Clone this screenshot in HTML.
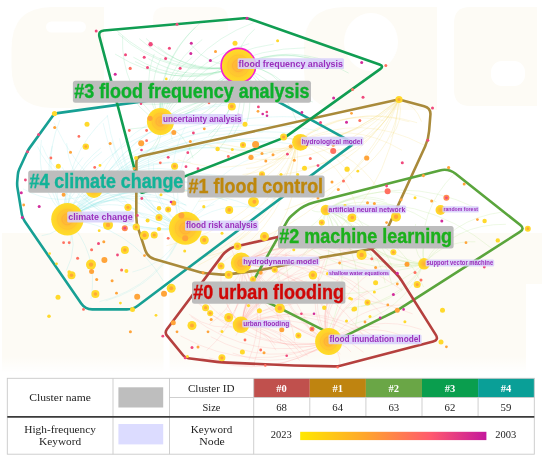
<!DOCTYPE html>
<html><head><meta charset="utf-8"><title>Cluster map</title>
<style>
html,body{margin:0;padding:0;background:#fff;}
body{width:550px;height:463px;overflow:hidden;position:relative;font-family:"Liberation Sans",sans-serif;}
svg{position:absolute;left:0;top:0;}
.cl{font-family:"Liberation Sans",sans-serif;font-weight:bold;font-size:19.4px;}
.kw{font-family:"Liberation Sans",sans-serif;font-weight:bold;fill:#9a2ebc;}
.tb{font-family:"Liberation Serif",serif;fill:#222;}
.tw{font-family:"Liberation Serif",serif;fill:#fff;font-weight:bold;}
</style></head><body>
<svg width="550" height="463" viewBox="0 0 550 463">
<defs>
<radialGradient id="ng"><stop offset="0" stop-color="#ffae3a"/><stop offset="0.45" stop-color="#ffc431"/><stop offset="0.75" stop-color="#ffd42a"/><stop offset="1" stop-color="#ffdc28"/></radialGradient>
<linearGradient id="yr" x1="0" x2="1" y1="0" y2="0"><stop offset="0" stop-color="#ffe800"/><stop offset="0.35" stop-color="#ffa52c"/><stop offset="0.7" stop-color="#ff5a6e"/><stop offset="1" stop-color="#c4189c"/></linearGradient>
</defs>

<g fill="#fdfbf5">
<rect x="2" y="233" width="540" height="139"/>
<path d="M52 7 H104 V108 H52 Q11.5 108 11.5 66 V49 Q11.5 7 52 7Z"/>
<path d="M165 7 H216 Q228 7 228 19 V30 H153 V19 Q153 7 165 7Z" fill-opacity="0.7"/>
<path d="M345 7 H437 V110 H345 Q304 110 304 70 V47 Q304 7 345 7Z"/>
<path d="M470 7 H537 V106 H470 Q454 106 454 90 V23 Q454 7 470 7Z"/>
</g>
<g fill="#fff"><ellipse cx="371" cy="42" rx="27" ry="29"/><rect x="46" y="21.5" width="40" height="11" rx="5.5"/><rect x="491" y="61" width="34" height="25" rx="11"/><rect x="163.5" y="233" width="6" height="139"/><rect x="526" y="284" width="16" height="88"/></g>
<defs><linearGradient id="fd" x1="0" x2="0" y1="0" y2="1"><stop offset="0" stop-color="#fff" stop-opacity="0"/><stop offset="1" stop-color="#fff"/></linearGradient></defs><rect x="0" y="356" width="550" height="17" fill="url(#fd)"/>
<path d="M238.0 66.0Q209.0 67.1 190.7 44.5M238.0 66.0Q248.7 70.7 251.4 82.2M238.0 66.0Q170.0 80.0 118.0 33.9M238.0 66.0Q183.5 87.7 133.4 57.2M238.0 66.0Q256.0 70.5 263.2 87.6M238.0 66.0Q291.6 41.0 343.7 68.8M238.0 66.0Q181.8 77.0 139.3 38.7M238.0 66.0Q236.0 126.5 186.3 161.2M238.0 66.0Q207.4 115.1 149.7 120.1M238.0 66.0Q263.8 64.0 280.9 83.4M238.0 66.0Q237.1 43.3 254.8 29.0M238.0 66.0Q173.6 90.8 115.1 54.1M238.0 66.0Q272.1 65.8 292.7 93.0M238.0 66.0Q226.6 105.9 187.9 120.8M238.0 66.0Q234.0 70.9 227.7 70.6M238.0 66.0Q216.1 109.9 167.9 118.8M238.0 66.0Q273.0 50.1 306.8 68.5M238.0 66.0Q249.1 113.5 217.7 150.9M238.0 66.0Q199.2 109.0 141.5 103.8M238.0 66.0Q295.0 41.9 348.6 73.1M238.0 66.0Q281.6 79.4 297.0 122.3M238.0 66.0Q259.0 75.5 264.0 98.1M238.0 66.0Q253.0 101.4 233.7 134.6M238.0 66.0Q286.1 43.2 333.2 67.9M238.0 66.0Q240.5 108.1 208.4 135.3M238.0 66.0Q185.2 75.3 146.1 38.6M238.0 66.0Q185.4 89.5 135.0 61.5M238.0 66.0Q187.2 110.7 121.1 96.8M238.0 66.0Q214.1 93.5 177.7 90.9M238.0 66.0Q191.4 84.7 148.4 58.7M238.0 66.0Q210.7 102.9 164.8 103.1M238.0 66.0Q251.8 57.9 266.6 64.1M238.0 66.0Q233.7 100.3 203.7 117.4M238.0 66.0Q256.9 94.3 245.5 126.4M238.0 66.0Q229.7 83.9 210.3 88.0M238.0 66.0Q198.6 125.3 127.6 129.3M238.0 66.0Q167.9 78.5 115.8 29.8M238.0 66.0Q193.0 76.3 157.7 46.5" fill="none" stroke="#6fdc9a" stroke-opacity="0.45" stroke-width="0.5"/>
<path d="M161.0 122.0Q154.5 66.0 195.3 27.2M161.0 122.0Q134.0 110.4 127.0 81.8M161.0 122.0Q197.9 54.8 273.7 44.1M161.0 122.0Q154.8 98.2 170.2 79.0M161.0 122.0Q161.0 70.5 202.2 39.6M161.0 122.0Q191.4 94.9 231.4 102.9M161.0 122.0Q120.3 88.6 122.6 35.9M161.0 122.0Q164.1 84.5 196.1 64.5M161.0 122.0Q185.5 60.8 249.2 43.7M161.0 122.0Q182.4 49.3 253.5 22.7M161.0 122.0Q157.0 99.2 172.7 82.4M161.0 122.0Q161.3 141.5 145.8 153.5M161.0 122.0Q160.5 81.7 192.4 57.1M161.0 122.0Q158.7 114.9 162.9 108.8M161.0 122.0Q155.7 62.9 199.8 23.1M161.0 122.0Q171.0 128.0 172.2 139.5M161.0 122.0Q145.0 89.9 161.1 57.8M161.0 122.0Q140.6 89.6 154.3 53.9M161.0 122.0Q231.8 74.0 312.7 101.9M161.0 122.0Q163.7 142.2 149.1 156.5M161.0 122.0Q186.2 132.2 193.2 158.5M161.0 122.0Q214.7 48.8 305.4 47.8" fill="none" stroke="#6fdc9a" stroke-opacity="0.4" stroke-width="0.5"/>
<path d="M67.0 219.0Q38.7 171.4 59.8 120.2M67.0 219.0Q79.6 245.0 66.3 270.7M67.0 219.0Q98.5 196.9 135.1 208.8M67.0 219.0Q130.5 225.9 163.2 280.8M67.0 219.0Q159.8 119.2 295.4 133.5M67.0 219.0Q67.6 176.7 101.9 151.8M67.0 219.0Q82.1 210.3 98.1 217.2M67.0 219.0Q75.9 190.1 104.4 179.9M67.0 219.0Q94.0 186.5 136.2 188.6M67.0 219.0Q123.0 182.3 186.1 205.0M67.0 219.0Q93.2 148.6 165.3 127.3M67.0 219.0Q64.3 203.5 75.1 192.0M67.0 219.0Q162.1 166.2 261.4 210.5M67.0 219.0Q92.7 195.6 126.9 202.0M67.0 219.0Q58.0 218.8 52.8 211.4M67.0 219.0Q66.2 175.2 100.7 148.2M67.0 219.0Q167.3 156.8 277.3 199.7M67.0 219.0Q140.3 170.0 223.4 199.2M67.0 219.0Q133.8 199.3 189.6 240.9M67.0 219.0Q114.8 186.6 169.4 205.4M67.0 219.0Q182.1 114.8 334.5 144.4M67.0 219.0Q158.1 109.8 300.1 117.1M67.0 219.0Q54.0 204.3 58.0 185.0M67.0 219.0Q34.5 186.0 41.4 140.1M67.0 219.0Q58.5 233.7 41.6 235.7M67.0 219.0Q74.8 232.0 69.0 246.1M67.0 219.0Q128.1 125.6 239.5 118.4M67.0 219.0Q99.0 252.9 91.0 298.8M67.0 219.0Q103.1 186.0 151.2 195.1M67.0 219.0Q60.1 199.7 71.4 182.7M67.0 219.0Q114.7 159.6 190.8 162.1M67.0 219.0Q59.6 184.3 83.0 157.5M67.0 219.0Q126.8 167.7 203.7 184.7M67.0 219.0Q142.6 169.8 227.3 200.7M67.0 219.0Q41.3 186.0 52.3 145.7M67.0 219.0Q61.7 156.9 108.1 115.4M67.0 219.0Q161.3 125.1 293.0 144.1M67.0 219.0Q144.1 195.2 209.3 242.6M67.0 219.0Q148.5 154.7 248.9 181.3M67.0 219.0Q104.2 164.8 169.9 162.1" fill="none" stroke="#7fe3e3" stroke-opacity="0.4" stroke-width="0.5"/>
<path d="M184.0 228.0Q117.5 190.8 107.3 115.3M184.0 228.0Q167.2 181.2 194.6 139.6M184.0 228.0Q92.6 207.8 53.9 122.5M184.0 228.0Q134.7 206.7 122.1 154.5M184.0 228.0Q209.3 167.3 273.0 151.1M184.0 228.0Q159.3 176.7 185.5 126.2M184.0 228.0Q219.4 198.7 264.0 209.3M184.0 228.0Q123.5 236.0 80.8 192.3M184.0 228.0Q227.2 178.2 293.0 182.8M184.0 228.0Q159.6 222.4 149.5 199.4M184.0 228.0Q169.2 262.9 132.5 272.0M184.0 228.0Q152.7 203.6 153.4 164.0M184.0 228.0Q117.3 195.7 103.1 122.9M184.0 228.0Q126.1 202.2 112.0 140.5M184.0 228.0Q140.1 225.5 115.8 188.9M184.0 228.0Q116.5 235.4 70.1 185.9M184.0 228.0Q163.1 284.0 105.7 300.9M184.0 228.0Q160.1 286.0 99.4 301.7M184.0 228.0Q137.2 212.7 121.3 166.0M184.0 228.0Q173.1 215.0 177.0 198.6M184.0 228.0Q127.1 238.3 84.7 199.0M184.0 228.0Q102.5 236.0 47.2 175.6M184.0 228.0Q129.4 199.3 119.5 138.4M184.0 228.0Q193.3 208.6 214.3 204.5M184.0 228.0Q148.9 202.5 148.3 159.2" fill="none" stroke="#7fe3e3" stroke-opacity="0.35" stroke-width="0.5"/>
<path d="M94.0 192.0Q81.8 205.1 63.9 203.2M94.0 192.0Q71.7 187.5 61.9 166.9M94.0 192.0Q158.2 181.4 205.2 226.4M94.0 192.0Q143.7 175.8 186.5 205.8M94.0 192.0Q143.9 110.3 239.2 101.2M94.0 192.0Q167.3 124.5 265.3 142.7M94.0 192.0Q56.5 181.8 42.1 145.7M94.0 192.0Q163.5 119.9 262.8 132.2M94.0 192.0Q133.7 159.5 183.5 171.8M94.0 192.0Q147.9 194.3 178.4 238.9M94.0 192.0Q141.7 113.0 233.6 103.8M94.0 192.0Q68.1 174.4 66.7 143.1M94.0 192.0Q171.3 129.8 267.5 154.4M94.0 192.0Q54.3 183.3 37.4 146.4M94.0 192.0Q159.2 134.0 244.7 151.3M94.0 192.0Q142.1 166.8 191.1 190.1M94.0 192.0Q114.3 132.4 174.2 112.9M94.0 192.0Q190.8 105.4 318.2 130.9M94.0 192.0Q57.7 208.2 22.9 188.8M94.0 192.0Q119.8 150.6 168.5 146.4" fill="none" stroke="#7fe3e3" stroke-opacity="0.38" stroke-width="0.5"/>
<path d="M297.0 142.0Q278.4 228.3 198.1 265.3M297.0 142.0Q262.6 196.4 198.4 201.4M297.0 142.0Q249.9 196.4 178.1 191.4M297.0 142.0Q352.2 102.4 417.1 122.7M297.0 142.0Q349.2 145.1 378.0 188.7M297.0 142.0Q279.5 222.6 204.5 256.9M297.0 142.0Q228.1 203.8 137.4 185.7M297.0 142.0Q285.7 154.2 269.1 152.4M297.0 142.0Q241.8 180.7 177.8 159.8M297.0 142.0Q289.4 211.3 229.4 246.8M297.0 142.0Q334.9 109.6 383.6 120.5M297.0 142.0Q351.6 119.9 402.0 150.3M297.0 142.0Q278.1 167.9 246.0 168.4M297.0 142.0Q277.9 171.9 242.6 174.5M297.0 142.0Q257.6 226.6 166.3 245.8M297.0 142.0Q289.1 221.9 220.5 263.5M297.0 142.0Q254.4 165.8 209.8 146.1M297.0 142.0Q289.6 139.9 286.9 132.8M297.0 142.0Q302.9 217.2 246.3 267.1M297.0 142.0Q333.7 146.5 352.1 178.5M297.0 142.0Q345.2 162.0 358.1 212.5M297.0 142.0Q348.2 103.8 409.4 121.8M297.0 142.0Q290.7 156.3 275.5 159.7M297.0 142.0Q282.3 203.8 224.1 229.1M297.0 142.0Q361.3 111.8 424.0 145.1" fill="none" stroke="#f5dc7a" stroke-opacity="0.45" stroke-width="0.5"/>
<path d="M399.0 99.5Q377.5 143.2 329.6 152.2M399.0 99.5Q367.1 158.7 300.5 168.6M399.0 99.5Q338.0 229.3 197.6 258.3M399.0 99.5Q350.5 147.8 282.8 138.1M399.0 99.5Q314.2 170.2 206.8 144.8M399.0 99.5Q390.5 201.0 304.2 255.0M399.0 99.5Q396.2 146.1 357.2 171.9M399.0 99.5Q351.6 180.6 258.3 191.4M399.0 99.5Q338.0 167.1 247.4 158.8M399.0 99.5Q415.8 104.9 421.5 121.6M399.0 99.5Q369.4 183.3 284.7 209.9M399.0 99.5Q404.3 120.5 390.6 137.4M399.0 99.5Q318.5 167.0 216.2 143.1M399.0 99.5Q346.1 174.8 254.1 177.7" fill="none" stroke="#f5dc7a" stroke-opacity="0.5" stroke-width="0.5"/>
<path d="M326.0 210.0Q310.5 267.1 255.5 289.0M326.0 210.0Q369.8 260.6 355.5 326.0M326.0 210.0Q377.6 230.7 392.0 284.4M326.0 210.0Q363.0 224.1 373.9 262.1M326.0 210.0Q378.6 189.9 426.3 219.9M326.0 210.0Q394.1 224.2 423.7 287.2M326.0 210.0Q373.6 222.1 392.6 267.5M326.0 210.0Q339.4 201.0 354.6 206.3M326.0 210.0Q337.4 227.2 330.5 246.7M326.0 210.0Q419.1 187.9 492.6 249.1M326.0 210.0Q319.0 213.7 311.9 210.3M326.0 210.0Q373.9 231.7 385.3 283.1M326.0 210.0Q345.2 201.6 363.5 212.0M326.0 210.0Q340.8 221.2 340.6 239.8M326.0 210.0Q379.3 178.3 436.6 201.9M326.0 210.0Q354.8 191.3 387.1 203.1M326.0 210.0Q399.8 171.5 474.9 207.5M326.0 210.0Q339.0 258.3 308.2 297.7M326.0 210.0Q357.4 269.5 328.6 330.3M326.0 210.0Q352.8 190.4 384.6 200.1M326.0 210.0Q324.7 228.9 308.7 239.2M326.0 210.0Q312.9 232.3 287.3 235.2" fill="none" stroke="#b5e68a" stroke-opacity="0.45" stroke-width="0.5"/>
<path d="M424.0 264.0Q455.0 223.6 505.9 224.3M424.0 264.0Q416.6 211.2 454.3 173.6M424.0 264.0Q419.9 246.5 431.5 232.7M424.0 264.0Q377.5 262.7 350.6 224.7M424.0 264.0Q365.2 270.9 324.4 228.1M424.0 264.0Q395.9 305.6 345.8 308.1M424.0 264.0Q444.2 240.1 475.4 241.8M424.0 264.0Q402.3 312.8 350.3 324.8M424.0 264.0Q353.7 278.1 300.3 230.2M424.0 264.0Q403.1 301.0 360.9 306.5M424.0 264.0Q450.4 218.3 502.7 212.0M424.0 264.0Q370.1 260.1 340.9 214.6M424.0 264.0Q378.3 303.2 319.5 290.2M424.0 264.0Q367.1 261.9 334.6 215.1M424.0 264.0Q364.1 284.7 311.6 249.1M424.0 264.0Q375.8 254.9 354.1 211.0M424.0 264.0Q392.2 272.6 366.2 252.2M424.0 264.0Q409.8 246.1 415.6 224.0" fill="none" stroke="#b5e68a" stroke-opacity="0.45" stroke-width="0.5"/>
<path d="M241.6 264.0Q250.4 268.4 252.2 278.1M241.6 264.0Q247.2 303.9 218.7 332.3M241.6 264.0Q272.7 310.8 253.9 363.8M241.6 264.0Q306.9 247.5 359.3 289.9M241.6 264.0Q240.6 278.1 228.8 285.7M241.6 264.0Q302.5 269.4 334.8 321.4M241.6 264.0Q326.0 272.6 369.8 345.3M241.6 264.0Q289.4 228.1 346.9 244.8M241.6 264.0Q284.8 252.2 320.1 279.7M241.6 264.0Q302.2 228.4 367.1 255.6M241.6 264.0Q236.5 265.3 232.4 262.0M241.6 264.0Q245.7 316.0 206.6 350.5M241.6 264.0Q284.7 248.2 323.2 273.2M241.6 264.0Q271.7 246.5 303.8 260.0M241.6 264.0Q327.6 255.0 386.4 318.5M241.6 264.0Q287.6 289.4 294.8 341.4M241.6 264.0Q328.5 236.9 402.3 290.2M241.6 264.0Q256.7 301.3 235.9 335.7M241.6 264.0Q297.3 267.3 328.1 313.9M241.6 264.0Q236.7 275.9 224.2 279.1M241.6 264.0Q249.8 289.3 234.5 311.0M241.6 264.0Q290.5 234.6 343.4 256.2M241.6 264.0Q293.6 231.5 350.7 253.6M241.6 264.0Q243.9 257.9 250.2 256.2M241.6 264.0Q322.2 248.7 382.8 303.9M241.6 264.0Q267.4 276.2 273.0 304.2M241.6 264.0Q284.9 227.7 340.0 240.6M241.6 264.0Q240.6 302.2 209.4 324.3M241.6 264.0Q260.1 256.8 277.0 267.2M241.6 264.0Q269.3 310.2 248.9 360.0M241.6 264.0Q256.5 283.1 250.2 306.5M241.6 264.0Q257.5 269.6 262.5 285.7M241.6 264.0Q250.8 254.0 264.4 255.3M241.6 264.0Q301.0 229.4 364.3 256.2M241.6 264.0Q280.6 293.0 280.8 341.6" fill="none" stroke="#ff9a9a" stroke-opacity="0.4" stroke-width="0.5"/>
<path d="M241.6 325.0Q265.1 329.0 276.0 350.3M241.6 325.0Q247.7 275.4 291.0 250.5M241.6 325.0Q298.2 314.8 340.4 354.0M241.6 325.0Q212.6 332.8 188.9 314.2M241.6 325.0Q247.2 305.3 266.3 297.9M241.6 325.0Q282.4 324.1 307.6 356.2M241.6 325.0Q210.7 322.3 194.4 295.9M241.6 325.0Q246.9 266.3 297.0 235.4M241.6 325.0Q324.4 276.7 412.7 313.9M241.6 325.0Q294.3 257.2 380.2 258.8M241.6 325.0Q263.6 326.6 275.5 345.2M241.6 325.0Q222.6 308.5 224.4 283.4M241.6 325.0Q263.2 286.8 306.7 281.1M241.6 325.0Q309.4 308.2 363.5 352.3M241.6 325.0Q280.1 292.7 329.1 304.2M241.6 325.0Q275.5 273.9 336.6 270.4M241.6 325.0Q256.6 307.3 279.8 308.7M241.6 325.0Q260.0 312.2 281.4 319.2M241.6 325.0Q255.3 295.5 287.1 288.7M241.6 325.0Q254.1 278.5 298.9 260.6M241.6 325.0Q310.6 297.4 374.1 336.0M241.6 325.0Q247.9 276.8 290.3 252.9M241.6 325.0Q247.5 270.7 294.4 242.8M241.6 325.0Q211.3 316.8 199.8 287.6M241.6 325.0Q250.2 263.6 304.5 233.6M241.6 325.0Q269.0 257.8 339.2 239.4M241.6 325.0Q306.4 299.3 365.8 335.7M241.6 325.0Q250.9 264.4 304.9 235.5M241.6 325.0Q261.0 287.4 302.8 280.3M241.6 325.0Q307.5 302.0 365.5 340.9M241.6 325.0Q279.4 328.3 299.5 360.5M241.6 325.0Q288.1 254.9 372.1 250.0M241.6 325.0Q279.6 325.0 302.4 355.4M241.6 325.0Q216.5 299.7 221.7 264.4M241.6 325.0Q259.3 283.1 303.4 272.2" fill="none" stroke="#ff9a9a" stroke-opacity="0.4" stroke-width="0.5"/>
<path d="M329.0 342.0Q272.8 379.9 208.8 357.7M329.0 342.0Q342.5 341.5 351.1 352.0M329.0 342.0Q268.6 368.9 210.8 336.7M329.0 342.0Q252.4 355.0 196.1 301.5M329.0 342.0Q318.0 307.4 339.2 277.8M329.0 342.0Q357.3 304.7 404.1 304.9M329.0 342.0Q328.4 347.4 323.7 350.2M329.0 342.0Q318.3 310.2 337.4 282.6M329.0 342.0Q336.9 289.7 383.5 264.7M329.0 342.0Q294.2 354.4 263.4 333.9M329.0 342.0Q285.1 308.0 285.9 252.5M329.0 342.0Q340.1 350.4 340.0 364.3M329.0 342.0Q321.6 331.9 325.3 319.9M329.0 342.0Q317.8 313.8 333.6 287.9M329.0 342.0Q319.6 353.0 305.2 352.0M329.0 342.0Q269.2 351.1 226.1 308.8M329.0 342.0Q306.2 299.8 326.2 256.3M329.0 342.0Q320.3 316.2 335.8 293.8M329.0 342.0Q269.2 381.7 201.5 357.7M329.0 342.0Q256.9 319.7 231.4 248.7M329.0 342.0Q253.5 363.7 190.8 316.4M329.0 342.0Q364.9 320.5 403.7 336.3M329.0 342.0Q282.6 316.8 274.8 264.6M329.0 342.0Q307.6 311.8 318.9 276.5M329.0 342.0Q322.2 312.6 341.7 289.5M329.0 342.0Q372.3 312.6 421.7 329.6M329.0 342.0Q283.6 371.6 232.7 353.1M329.0 342.0Q282.2 314.7 275.9 260.9M329.0 342.0Q253.2 376.1 180.5 335.9M329.0 342.0Q266.7 354.5 219.3 312.2M329.0 342.0Q310.0 335.8 303.7 316.9M329.0 342.0Q271.1 325.7 249.4 269.6M329.0 342.0Q350.5 321.9 379.4 327.1M329.0 342.0Q336.6 307.2 369.1 292.4M329.0 342.0Q335.7 306.6 368.1 290.7" fill="none" stroke="#ff9a9a" stroke-opacity="0.4" stroke-width="0.5"/>
<path d="M52.7 115.9Q54.5 113.5 57.5 113.1L247.5 86.9Q250.5 86.5 253.1 87.9L351.4 141.9Q354.0 143.3 351.6 145.1L137.8 305.8Q133.0 309.4 127.0 309.4L92.2 309.4Q85.2 309.4 81.2 303.6L24.7 221.3Q22.4 218.0 21.8 214.1L17.5 188.0Q17.0 185.0 17.2 182.0L17.8 175.0Q18.0 172.0 19.2 169.3L26.8 152.7Q28.0 150.0 29.8 147.6Z" fill="none" stroke="#17a094" stroke-width="2.6" stroke-linejoin="round"/>
<path d="M396.1 100.1Q399.0 99.5 401.9 100.3L424.2 106.2Q431.0 108.0 430.4 115.0L429.1 131.0Q428.5 139.0 425.2 146.3L381.8 240.8Q380.5 243.5 378.0 245.1L374.2 247.4Q371.7 249.0 368.7 249.5L324.8 256.8Q321.8 257.3 318.9 257.9L260.9 269.9Q258.0 270.5 255.0 270.9L228.0 274.4Q225.0 274.8 222.0 274.6L206.0 273.2Q203.0 273.0 200.1 272.2L154.2 258.9Q147.5 257.0 145.3 250.4L138.2 228.7Q136.3 223.0 136.3 217.0L136.4 162.0Q136.4 157.0 141.3 155.9L237.1 134.9Q240.0 134.3 242.9 133.7Z" fill="none" stroke="#a98a3a" stroke-width="2.6" stroke-linejoin="round"/>
<path d="M99.5 36.8Q98.0 31.0 104.0 30.5L244.0 18.3Q247.0 18.0 249.8 19.0L379.5 64.5Q384.2 66.2 380.1 69.1L287.4 135.6Q285.0 137.3 282.2 138.4L143.8 192.4Q141.0 193.5 140.2 190.6Z" fill="none" stroke="#109d52" stroke-width="2.6" stroke-linejoin="round"/>
<path d="M439.8 170.4Q448.5 168.2 455.6 173.8L520.3 225.0Q525.0 228.7 519.9 231.9L399.5 308.9Q397.0 310.5 394.3 311.8L342.7 337.2Q340.0 338.5 337.3 337.1L282.2 309.4Q279.5 308.0 276.8 306.7L249.2 294.1Q246.5 292.8 248.0 290.2L287.5 220.6Q289.0 218.0 291.3 216.0L296.5 211.5Q304.0 205.0 313.7 202.5Z" fill="none" stroke="#5aa53c" stroke-width="2.6" stroke-linejoin="round"/>
<path d="M222.7 254.9Q224.5 252.5 227.0 250.8L230.2 248.7Q232.7 247.0 235.6 246.4L275.6 237.6Q278.5 237.0 281.4 236.4L322.1 228.6Q325.0 228.0 327.7 229.2L369.0 247.8Q371.7 249.0 373.8 251.1L395.5 273.0Q399.0 276.5 401.7 280.7L435.8 334.9Q439.0 340.0 433.2 341.5L340.2 365.7Q337.3 366.5 334.3 366.4L294.0 365.5Q291.0 365.4 288.0 365.3L223.0 362.4Q220.0 362.3 217.0 361.9L188.2 358.2Q185.2 357.8 183.3 355.5L167.0 335.6Q164.5 332.5 166.9 329.3Z" fill="none" stroke="#b5403e" stroke-width="2.6" stroke-linejoin="round"/>
<circle cx="238.4" cy="65.7" r="17.3" fill="url(#ng)"/>
<circle cx="238.4" cy="65.7" r="10.7" fill="none" stroke="#ffb636" stroke-opacity="0.5" stroke-width="0.8"/>
<circle cx="238.4" cy="65.7" r="5.9" fill="none" stroke="#ff9f3c" stroke-opacity="0.55" stroke-width="0.8"/>
<circle cx="238.4" cy="65.7" r="17.3" fill="none" stroke="#f41fd0" stroke-width="1.6"/>
<circle cx="160.5" cy="121.5" r="13.6" fill="url(#ng)"/>
<circle cx="160.5" cy="121.5" r="8.4" fill="none" stroke="#ffb636" stroke-opacity="0.5" stroke-width="0.8"/>
<circle cx="160.5" cy="121.5" r="4.6" fill="none" stroke="#ff9f3c" stroke-opacity="0.55" stroke-width="0.8"/>
<circle cx="300.5" cy="142.3" r="8.4" fill="url(#ng)"/>
<circle cx="67.4" cy="219.3" r="16.2" fill="url(#ng)"/>
<circle cx="67.4" cy="219.3" r="10.0" fill="none" stroke="#ffb636" stroke-opacity="0.5" stroke-width="0.8"/>
<circle cx="67.4" cy="219.3" r="5.5" fill="none" stroke="#ff9f3c" stroke-opacity="0.55" stroke-width="0.8"/>
<circle cx="94" cy="189.5" r="8.5" fill="url(#ng)"/>
<circle cx="185.4" cy="228.3" r="16.5" fill="url(#ng)"/>
<circle cx="185.4" cy="228.3" r="10.2" fill="none" stroke="#ffb636" stroke-opacity="0.5" stroke-width="0.8"/>
<circle cx="185.4" cy="228.3" r="5.6" fill="none" stroke="#ff9f3c" stroke-opacity="0.55" stroke-width="0.8"/>
<circle cx="325.8" cy="210" r="5.2" fill="url(#ng)"/>
<circle cx="440.5" cy="210" r="5" fill="url(#ng)"/>
<circle cx="241.2" cy="263" r="10.4" fill="url(#ng)"/>
<circle cx="241.2" cy="263" r="6.4" fill="none" stroke="#ffb636" stroke-opacity="0.5" stroke-width="0.8"/>
<circle cx="241.2" cy="263" r="3.5" fill="none" stroke="#ff9f3c" stroke-opacity="0.55" stroke-width="0.8"/>
<circle cx="424" cy="263.8" r="5.8" fill="url(#ng)"/>
<circle cx="241" cy="324.8" r="8.3" fill="url(#ng)"/>
<circle cx="328.7" cy="341.5" r="13.6" fill="url(#ng)"/>
<circle cx="328.7" cy="341.5" r="8.4" fill="none" stroke="#ffb636" stroke-opacity="0.5" stroke-width="0.8"/>
<circle cx="328.7" cy="341.5" r="4.6" fill="none" stroke="#ff9f3c" stroke-opacity="0.55" stroke-width="0.8"/>
<g>
<circle cx="96.2" cy="31" r="1.5" fill="#f0487c"/>
<circle cx="125.5" cy="54.7" r="1.5" fill="#f0487c"/>
<circle cx="130.2" cy="68.4" r="1.6" fill="#ff7060"/>
<circle cx="115.2" cy="74.3" r="1.5" fill="#d22c9c"/>
<circle cx="54.5" cy="113.5" r="2.6" fill="#ffd92b"/>
<circle cx="150.6" cy="44.3" r="2.2" fill="#f0487c"/>
<circle cx="169.4" cy="48.3" r="1.5" fill="#f0487c"/>
<circle cx="191.3" cy="43.3" r="1.5" fill="#d22c9c"/>
<circle cx="190.8" cy="53.4" r="1.5" fill="#d22c9c"/>
<circle cx="144.2" cy="57.3" r="1.5" fill="#f0487c"/>
<circle cx="165.6" cy="58.5" r="1.5" fill="#f0487c"/>
<circle cx="147.5" cy="67.4" r="1.5" fill="#f0487c"/>
<circle cx="180.1" cy="68.2" r="1.5" fill="#f0487c"/>
<circle cx="210.4" cy="60.6" r="1.5" fill="#d22c9c"/>
<circle cx="215.5" cy="51.5" r="1.5" fill="#ffa43a"/>
<circle cx="177" cy="24.2" r="1.5" fill="#f0487c"/>
<circle cx="166.3" cy="78.9" r="1.3" fill="#ffd92b"/>
<circle cx="141" cy="103.8" r="1.3" fill="#f0487c"/>
<circle cx="209" cy="103" r="1.3" fill="#ff7060"/>
<circle cx="247" cy="18.3" r="1.5" fill="#d22c9c"/>
<circle cx="235" cy="43.3" r="2.5" fill="#ffd92b"/>
<circle cx="277.6" cy="40.7" r="1.5" fill="#ffd92b"/>
<circle cx="258.4" cy="106.9" r="1.4" fill="#f0487c"/>
<circle cx="258" cy="111.3" r="1.4" fill="#ffa43a"/>
<circle cx="266.8" cy="112" r="1.3" fill="#f0487c"/>
<circle cx="301.9" cy="112.5" r="1.4" fill="#d22c9c"/>
<circle cx="333.6" cy="98" r="1.5" fill="#d22c9c"/>
<circle cx="238.7" cy="115" r="1.3" fill="#d22c9c"/>
<circle cx="262.7" cy="114" r="1.3" fill="#d22c9c"/>
<circle cx="267" cy="115.8" r="1.3" fill="#d22c9c"/>
<circle cx="361.7" cy="62.6" r="1.5" fill="#d22c9c"/>
<circle cx="385.8" cy="65.6" r="1.5" fill="#ff7060"/>
<circle cx="352.5" cy="89.6" r="1.5" fill="#ff7060"/>
<circle cx="363" cy="97.2" r="1.5" fill="#f0487c"/>
<circle cx="432.5" cy="108" r="1.5" fill="#f0487c"/>
<circle cx="351.5" cy="113.3" r="1.4" fill="#ffa43a"/>
<circle cx="54.7" cy="127.5" r="1.5" fill="#ffa43a"/>
<circle cx="87" cy="124.2" r="2.5" fill="#ffd92b"/>
<circle cx="78.9" cy="136.4" r="1.4" fill="#ff7060"/>
<circle cx="38.7" cy="134.4" r="1.5" fill="#f0487c"/>
<circle cx="27.5" cy="151.7" r="1.5" fill="#f0487c"/>
<circle cx="85.8" cy="146.6" r="3.2" fill="#ffd92b"/>
<circle cx="85.8" cy="146.6" r="1.4" fill="#ffa838"/>
<circle cx="110.2" cy="143.5" r="1.5" fill="#ffa43a"/>
<circle cx="70.5" cy="152.2" r="1.5" fill="#ffa43a"/>
<circle cx="50.9" cy="158" r="1.4" fill="#ff7060"/>
<circle cx="58.3" cy="166.2" r="2.5" fill="#ffd92b"/>
<circle cx="94.7" cy="167.4" r="1.4" fill="#ff7060"/>
<circle cx="100" cy="165.4" r="1.4" fill="#ffd92b"/>
<circle cx="129.3" cy="130.5" r="1.4" fill="#ff7060"/>
<circle cx="136" cy="158" r="2" fill="#ffd92b"/>
<circle cx="134.2" cy="168.5" r="1.6" fill="#ffa43a"/>
<circle cx="25.4" cy="180" r="1.4" fill="#f0487c"/>
<circle cx="21.3" cy="192.7" r="1.5" fill="#d22c9c"/>
<circle cx="63.6" cy="194.8" r="2" fill="#ffa43a"/>
<circle cx="39.2" cy="206.4" r="1.5" fill="#d22c9c"/>
<circle cx="23.7" cy="205" r="1.4" fill="#ffa43a"/>
<circle cx="22.4" cy="217.5" r="1.5" fill="#d22c9c"/>
<circle cx="150" cy="118.3" r="2.6" fill="#ffa43a"/>
<circle cx="146.6" cy="130.5" r="1.4" fill="#ff7060"/>
<circle cx="173.8" cy="132.6" r="2.5" fill="#ffa43a"/>
<circle cx="141.2" cy="143.3" r="3" fill="#ffa43a"/>
<circle cx="146.6" cy="140.7" r="1.4" fill="#ff7060"/>
<circle cx="193.4" cy="133" r="1.4" fill="#f0487c"/>
<circle cx="204.3" cy="128.8" r="1.4" fill="#ffa43a"/>
<circle cx="190.3" cy="141.5" r="1.5" fill="#ffa43a"/>
<circle cx="217.6" cy="149" r="2.2" fill="#ffd92b"/>
<circle cx="187.8" cy="152.7" r="1.4" fill="#f0487c"/>
<circle cx="141.5" cy="150" r="1.3" fill="#f0487c"/>
<circle cx="168.2" cy="157.3" r="1.4" fill="#f0487c"/>
<circle cx="160.3" cy="162.8" r="1.4" fill="#ff7060"/>
<circle cx="174.6" cy="166.2" r="3.5" fill="#ffd92b"/>
<circle cx="174.6" cy="166.2" r="1.6" fill="#ffa838"/>
<circle cx="186" cy="166.7" r="1.4" fill="#f0487c"/>
<circle cx="198" cy="168.7" r="1.4" fill="#f0487c"/>
<circle cx="228.3" cy="156.5" r="1.4" fill="#ff7060"/>
<circle cx="232.3" cy="149.6" r="1.5" fill="#ffd92b"/>
<circle cx="141.8" cy="198.5" r="1.4" fill="#f0487c"/>
<circle cx="161" cy="194.7" r="1.5" fill="#ffd92b"/>
<circle cx="245" cy="124.2" r="2.5" fill="#ffd92b"/>
<circle cx="320.5" cy="122.4" r="1.5" fill="#f0487c"/>
<circle cx="346.5" cy="122.2" r="1.5" fill="#d22c9c"/>
<circle cx="359.8" cy="120.4" r="1.5" fill="#ff7060"/>
<circle cx="283.6" cy="137" r="3.5" fill="#ffd92b"/>
<circle cx="283.6" cy="137" r="1.6" fill="#ffa838"/>
<circle cx="243" cy="145" r="3" fill="#ffd92b"/>
<circle cx="243" cy="145" r="1.4" fill="#ffa838"/>
<circle cx="255.6" cy="144.5" r="3.5" fill="#ffa43a"/>
<circle cx="290.7" cy="146.6" r="2" fill="#ffa43a"/>
<circle cx="333.2" cy="151" r="3" fill="#ff7060"/>
<circle cx="333.2" cy="145.3" r="1.5" fill="#ffa43a"/>
<circle cx="251" cy="157.3" r="2.6" fill="#ffa43a"/>
<circle cx="262" cy="153.4" r="1.5" fill="#ffa43a"/>
<circle cx="273" cy="154.7" r="1.5" fill="#ffa43a"/>
<circle cx="287.4" cy="154.2" r="1.4" fill="#f0487c"/>
<circle cx="265.8" cy="161" r="1.5" fill="#ffa43a"/>
<circle cx="294.3" cy="160.3" r="1.5" fill="#ffa43a"/>
<circle cx="310.3" cy="158.5" r="1.5" fill="#ff7060"/>
<circle cx="304.5" cy="168.2" r="2.5" fill="#ffd92b"/>
<circle cx="318" cy="165.6" r="1.4" fill="#f0487c"/>
<circle cx="347.1" cy="169.2" r="2.6" fill="#ffd92b"/>
<circle cx="357.8" cy="171.2" r="1.4" fill="#ffd92b"/>
<circle cx="262" cy="174.3" r="3" fill="#ffd92b"/>
<circle cx="262" cy="174.3" r="1.4" fill="#ffa838"/>
<circle cx="281" cy="174.5" r="1.6" fill="#ffd92b"/>
<circle cx="297.6" cy="174.5" r="1.6" fill="#ffd92b"/>
<circle cx="332" cy="182" r="1.5" fill="#ffa43a"/>
<circle cx="343.5" cy="181" r="1.5" fill="#ff7060"/>
<circle cx="338.3" cy="189.6" r="1.5" fill="#ffa43a"/>
<circle cx="318" cy="198" r="1.5" fill="#ffa43a"/>
<circle cx="366.7" cy="158" r="2.6" fill="#ffa43a"/>
<circle cx="402.3" cy="162.8" r="1.5" fill="#f0487c"/>
<circle cx="427.8" cy="140.3" r="1.5" fill="#f0487c"/>
<circle cx="448.6" cy="167.6" r="1.6" fill="#ffa43a"/>
<circle cx="423.4" cy="175.6" r="1.6" fill="#ffa43a"/>
<circle cx="464.2" cy="184" r="1.5" fill="#ffa43a"/>
<circle cx="386.6" cy="186" r="1.4" fill="#f0487c"/>
<circle cx="387.6" cy="191.2" r="3" fill="#ff7060"/>
<circle cx="415" cy="197.8" r="1.5" fill="#ffd92b"/>
<circle cx="431.7" cy="201" r="1.5" fill="#ffa43a"/>
<circle cx="446.4" cy="197.8" r="3" fill="#ff8a50"/>
<circle cx="446.4" cy="197.8" r="1.4" fill="#f0487c"/>
<circle cx="401" cy="199.7" r="1.5" fill="#ffa43a"/>
<circle cx="367.5" cy="202.8" r="1.5" fill="#ffa43a"/>
<circle cx="374.4" cy="203.5" r="1.5" fill="#ffa43a"/>
<circle cx="345" cy="205.6" r="1.5" fill="#ffd92b"/>
<circle cx="351.5" cy="218" r="4" fill="#ffd92b"/>
<circle cx="351.5" cy="218" r="1.8" fill="#ffa838"/>
<circle cx="396" cy="216.7" r="5" fill="#ffd92b"/>
<circle cx="396" cy="216.7" r="2.2" fill="#ffa838"/>
<circle cx="441.8" cy="221" r="1.5" fill="#d22c9c"/>
<circle cx="386.6" cy="222.6" r="1.4" fill="#ffa43a"/>
<circle cx="477.4" cy="219.6" r="1.4" fill="#ffa43a"/>
<circle cx="484.6" cy="221" r="2.2" fill="#ffd92b"/>
<circle cx="466" cy="242.7" r="1.4" fill="#ffa43a"/>
<circle cx="497.8" cy="240.4" r="2.2" fill="#ffd92b"/>
<circle cx="527.8" cy="228.7" r="3" fill="#ffd92b"/>
<circle cx="527.8" cy="228.7" r="1.4" fill="#ffa838"/>
<circle cx="484.3" cy="267" r="1.4" fill="#f0487c"/>
<circle cx="321.8" cy="222.6" r="3" fill="#ffd92b"/>
<circle cx="321.8" cy="222.6" r="1.4" fill="#ffa838"/>
<circle cx="128" cy="207.3" r="3.6" fill="#ffd92b"/>
<circle cx="128" cy="207.3" r="1.6" fill="#ffa838"/>
<circle cx="108" cy="224.9" r="5" fill="#ffd92b"/>
<circle cx="108" cy="224.9" r="2.2" fill="#ffa838"/>
<circle cx="124.8" cy="228.2" r="3" fill="#ff8a50"/>
<circle cx="124.8" cy="228.2" r="1.4" fill="#f0487c"/>
<circle cx="136.2" cy="227" r="3.6" fill="#ffd92b"/>
<circle cx="136.2" cy="227" r="1.6" fill="#ffa838"/>
<circle cx="137.4" cy="215.4" r="1.3" fill="#f0487c"/>
<circle cx="99.2" cy="230.7" r="1.4" fill="#ffd92b"/>
<circle cx="63.6" cy="242.7" r="1.4" fill="#ff7060"/>
<circle cx="69.2" cy="242.7" r="1.4" fill="#ff7060"/>
<circle cx="98.5" cy="243.4" r="1.5" fill="#f0487c"/>
<circle cx="103.8" cy="241.7" r="1.5" fill="#ffa43a"/>
<circle cx="91.6" cy="249.8" r="1.5" fill="#ff7060"/>
<circle cx="49.6" cy="253.6" r="1.4" fill="#ffd92b"/>
<circle cx="124.9" cy="250" r="4" fill="#ffd92b"/>
<circle cx="124.9" cy="250" r="1.8" fill="#ffa838"/>
<circle cx="117.5" cy="255" r="1.4" fill="#f0487c"/>
<circle cx="77.6" cy="258.2" r="1.5" fill="#ff7060"/>
<circle cx="104.4" cy="260" r="3" fill="#ffa43a"/>
<circle cx="56.5" cy="263.8" r="1.4" fill="#ffd92b"/>
<circle cx="91" cy="264.6" r="5" fill="#ffd92b"/>
<circle cx="91" cy="264.6" r="2.2" fill="#ffa838"/>
<circle cx="91.6" cy="271.4" r="2.5" fill="#ffa43a"/>
<circle cx="71.5" cy="275.3" r="4" fill="#ffd92b"/>
<circle cx="71.5" cy="275.3" r="1.8" fill="#ffa838"/>
<circle cx="69.2" cy="272" r="1.8" fill="#ffd92b"/>
<circle cx="121.6" cy="270" r="1.5" fill="#ff7060"/>
<circle cx="126.4" cy="271" r="2" fill="#ffd92b"/>
<circle cx="96.7" cy="279.5" r="1.5" fill="#ffa43a"/>
<circle cx="112.1" cy="280.8" r="1.5" fill="#ffa43a"/>
<circle cx="58" cy="297.3" r="2.5" fill="#ffd92b"/>
<circle cx="95.4" cy="294" r="4" fill="#ffd92b"/>
<circle cx="95.4" cy="294" r="1.8" fill="#ffa838"/>
<circle cx="116.5" cy="293.2" r="1.4" fill="#ffa43a"/>
<circle cx="137.2" cy="296.8" r="3" fill="#ffa43a"/>
<circle cx="120.4" cy="303.1" r="1.4" fill="#ffd92b"/>
<circle cx="83.5" cy="309.4" r="1.4" fill="#ff7060"/>
<circle cx="132.5" cy="309.4" r="2.5" fill="#ffd92b"/>
<circle cx="49" cy="316.3" r="1.8" fill="#ffd92b"/>
<circle cx="130.4" cy="331.8" r="1.5" fill="#ffa43a"/>
<circle cx="159" cy="208.3" r="2.2" fill="#ffd92b"/>
<circle cx="168.2" cy="209.5" r="3" fill="#ffd92b"/>
<circle cx="168.2" cy="209.5" r="1.4" fill="#ffa838"/>
<circle cx="173.6" cy="203" r="2.6" fill="#ffb030"/>
<circle cx="171" cy="202" r="1.3" fill="#d22c9c"/>
<circle cx="159" cy="217.5" r="3.5" fill="#ffd92b"/>
<circle cx="159" cy="217.5" r="1.6" fill="#ffa838"/>
<circle cx="147.6" cy="220.5" r="2" fill="#ffd92b"/>
<circle cx="159" cy="229" r="2.1" fill="#ffd92b"/>
<circle cx="144.5" cy="235.3" r="4.5" fill="#ffd92b"/>
<circle cx="144.5" cy="235.3" r="2.0" fill="#ffa838"/>
<circle cx="154.2" cy="235" r="3.5" fill="#ffd92b"/>
<circle cx="154.2" cy="235" r="1.6" fill="#ffa838"/>
<circle cx="168.2" cy="238.3" r="1.4" fill="#ff7060"/>
<circle cx="181.4" cy="215.4" r="3" fill="#ffa43a"/>
<circle cx="185.2" cy="238.3" r="3" fill="#ffa43a"/>
<circle cx="204.3" cy="240" r="4.5" fill="#ffd92b"/>
<circle cx="204.3" cy="240" r="2.0" fill="#ffa838"/>
<circle cx="203.8" cy="206.7" r="1.6" fill="#ffd92b"/>
<circle cx="229.2" cy="209.9" r="4" fill="#ffd92b"/>
<circle cx="229.2" cy="209.9" r="1.8" fill="#ffa838"/>
<circle cx="222" cy="233.3" r="1.5" fill="#ffd92b"/>
<circle cx="237.6" cy="246.3" r="3.8" fill="#ffd92b"/>
<circle cx="237.6" cy="246.3" r="1.7" fill="#ffa838"/>
<circle cx="144.5" cy="255.6" r="1.4" fill="#ffa43a"/>
<circle cx="184.7" cy="251" r="1.5" fill="#ffd92b"/>
<circle cx="221" cy="266" r="3.5" fill="#ffd92b"/>
<circle cx="221" cy="266" r="1.6" fill="#ffa838"/>
<circle cx="203" cy="272.7" r="1.5" fill="#ffa43a"/>
<circle cx="228.7" cy="274.7" r="4" fill="#ffd92b"/>
<circle cx="228.7" cy="274.7" r="1.8" fill="#ffa838"/>
<circle cx="171.2" cy="288.2" r="4.5" fill="#ffd92b"/>
<circle cx="171.2" cy="288.2" r="2.0" fill="#ffa838"/>
<circle cx="164" cy="293.7" r="3" fill="#ffa43a"/>
<circle cx="253" cy="202" r="5" fill="#ffd92b"/>
<circle cx="253" cy="202" r="2.2" fill="#ffa838"/>
<circle cx="254.4" cy="201.8" r="4.5" fill="#ffd92b"/>
<circle cx="254.4" cy="201.8" r="2.0" fill="#ffa838"/>
<circle cx="352.3" cy="217.5" r="4" fill="#ffd92b"/>
<circle cx="352.3" cy="217.5" r="1.8" fill="#ffa838"/>
<circle cx="264.5" cy="236.6" r="4.5" fill="#ffd92b"/>
<circle cx="264.5" cy="236.6" r="2.0" fill="#ffa838"/>
<circle cx="293.8" cy="249.8" r="1.5" fill="#ffd92b"/>
<circle cx="253" cy="279.3" r="3" fill="#ffd92b"/>
<circle cx="253" cy="279.3" r="1.4" fill="#ffa838"/>
<circle cx="260.7" cy="272.7" r="2" fill="#ffa43a"/>
<circle cx="274.7" cy="269.8" r="3" fill="#ffd92b"/>
<circle cx="274.7" cy="269.8" r="1.4" fill="#ffa838"/>
<circle cx="312.9" cy="275.1" r="4.3" fill="#ffd92b"/>
<circle cx="312.9" cy="275.1" r="1.9" fill="#ffa838"/>
<circle cx="327.5" cy="273.7" r="1.6" fill="#ffd92b"/>
<circle cx="339.6" cy="263" r="1.4" fill="#ffa43a"/>
<circle cx="361.6" cy="254.9" r="5" fill="#ffd92b"/>
<circle cx="361.6" cy="254.9" r="2.2" fill="#ffa838"/>
<circle cx="349.8" cy="298.2" r="1.5" fill="#ffd92b"/>
<circle cx="393.4" cy="252.3" r="3" fill="#ffd92b"/>
<circle cx="393.4" cy="252.3" r="1.4" fill="#ffa838"/>
<circle cx="371.8" cy="258.7" r="1.5" fill="#ff7060"/>
<circle cx="407" cy="264.2" r="2.5" fill="#ffa030"/>
<circle cx="375.6" cy="267.6" r="1.5" fill="#ffa43a"/>
<circle cx="415" cy="272.6" r="1.5" fill="#ff7060"/>
<circle cx="397.3" cy="273.2" r="1.5" fill="#d22c9c"/>
<circle cx="421" cy="280" r="1.5" fill="#ff7060"/>
<circle cx="417.2" cy="284.6" r="3.5" fill="#ffd92b"/>
<circle cx="417.2" cy="284.6" r="1.6" fill="#ffa838"/>
<circle cx="375.6" cy="282.8" r="2.5" fill="#ffd92b"/>
<circle cx="397.3" cy="284" r="1.4" fill="#ffa43a"/>
<circle cx="374.4" cy="292" r="1.5" fill="#ffd92b"/>
<circle cx="393.4" cy="294.6" r="1.5" fill="#d22c9c"/>
<circle cx="351.5" cy="299" r="1.5" fill="#ffd92b"/>
<circle cx="367.5" cy="302.6" r="3" fill="#ffd92b"/>
<circle cx="367.5" cy="302.6" r="1.4" fill="#ffa838"/>
<circle cx="387.8" cy="304.9" r="1.4" fill="#ffa43a"/>
<circle cx="354.8" cy="308.9" r="2.4" fill="#ffd92b"/>
<circle cx="397.3" cy="310.2" r="2.5" fill="#ffa43a"/>
<circle cx="403.6" cy="309.4" r="1.3" fill="#d22c9c"/>
<circle cx="442.5" cy="310.2" r="2.5" fill="#ffd92b"/>
<circle cx="370" cy="316.6" r="1.5" fill="#ffd92b"/>
<circle cx="380.2" cy="317.8" r="1.4" fill="#d22c9c"/>
<circle cx="365" cy="322" r="1.4" fill="#ffa43a"/>
<circle cx="404.9" cy="321.7" r="1.5" fill="#ffd92b"/>
<circle cx="441" cy="342" r="2.5" fill="#ffd92b"/>
<circle cx="446.4" cy="346.8" r="1.4" fill="#ffa43a"/>
<circle cx="156" cy="315.3" r="1.4" fill="#ffd92b"/>
<circle cx="173.3" cy="322.7" r="2.5" fill="#ffa43a"/>
<circle cx="177" cy="331.8" r="1.4" fill="#ffa43a"/>
<circle cx="162.8" cy="336.2" r="1.4" fill="#f0487c"/>
<circle cx="192" cy="325.5" r="4.5" fill="#ffd92b"/>
<circle cx="192" cy="325.5" r="2.0" fill="#ffa838"/>
<circle cx="205.6" cy="307.7" r="3.5" fill="#ffd92b"/>
<circle cx="205.6" cy="307.7" r="1.6" fill="#ffa838"/>
<circle cx="210.2" cy="313.3" r="3" fill="#ffd92b"/>
<circle cx="210.2" cy="313.3" r="1.4" fill="#ffa838"/>
<circle cx="211.2" cy="319.6" r="1.5" fill="#ffa43a"/>
<circle cx="228.7" cy="317.5" r="4.5" fill="#ffd92b"/>
<circle cx="228.7" cy="317.5" r="2.0" fill="#ffa838"/>
<circle cx="208" cy="331.8" r="1.4" fill="#ffa43a"/>
<circle cx="222" cy="331.4" r="1.5" fill="#ffd92b"/>
<circle cx="192" cy="347.6" r="1.5" fill="#f0487c"/>
<circle cx="198" cy="347" r="1.5" fill="#ffa43a"/>
<circle cx="185.2" cy="357.8" r="1.5" fill="#f0487c"/>
<circle cx="187.4" cy="356.5" r="1.5" fill="#ffd92b"/>
<circle cx="221.9" cy="357.8" r="3.5" fill="#ffd92b"/>
<circle cx="221.9" cy="357.8" r="1.6" fill="#ffa838"/>
<circle cx="279.8" cy="308.2" r="5" fill="#ffd92b"/>
<circle cx="279.8" cy="308.2" r="2.2" fill="#ffa838"/>
<circle cx="259.4" cy="310.7" r="2.5" fill="#ffd92b"/>
<circle cx="248.5" cy="305.6" r="1.6" fill="#ffd92b"/>
<circle cx="324.3" cy="307.7" r="2.2" fill="#ffd92b"/>
<circle cx="353.6" cy="309.4" r="2.2" fill="#ffd92b"/>
<circle cx="314" cy="313.8" r="1.3" fill="#d22c9c"/>
<circle cx="301.4" cy="313.8" r="1.3" fill="#f0487c"/>
<circle cx="346.5" cy="321" r="1.5" fill="#ffd92b"/>
<circle cx="312" cy="329" r="2.5" fill="#ff8a50"/>
<circle cx="312" cy="329" r="1.1" fill="#f0487c"/>
<circle cx="281.8" cy="329.8" r="2.5" fill="#ffa43a"/>
<circle cx="298.4" cy="335.6" r="3" fill="#ffd92b"/>
<circle cx="298.4" cy="335.6" r="1.4" fill="#ffa838"/>
<circle cx="245" cy="340" r="1.4" fill="#ff7060"/>
<circle cx="242.4" cy="352" r="2.5" fill="#ffd92b"/>
<circle cx="260.7" cy="350" r="1.4" fill="#ff7060"/>
<circle cx="264" cy="352.7" r="1.5" fill="#ffa43a"/>
<circle cx="286.7" cy="355.8" r="1.3" fill="#f0487c"/>
<circle cx="265.3" cy="365.4" r="1.3" fill="#ff7060"/>
<circle cx="337.6" cy="367.3" r="1.3" fill="#ff7060"/>
<circle cx="231.8" cy="106.4" r="4" fill="#ffd92b"/>
<circle cx="231.8" cy="106.4" r="1.8" fill="#ffa838"/>
<circle cx="399" cy="99.5" r="3.6" fill="#ffd92b"/>
<circle cx="399" cy="99.5" r="1.6" fill="#ffa838"/>
</g>
<rect x="237.6" y="58.3" width="106.4" height="10.7" rx="1.5" fill="#d8d0fb" fill-opacity="0.88"/>
<text class="kw" x="238.6" y="66.6" font-size="8.9" textLength="104.4" lengthAdjust="spacingAndGlyphs">flood frequency analysis</text>
<rect x="162" y="114" width="80.6" height="10.2" rx="1.5" fill="#d8d0fb" fill-opacity="0.88"/>
<text class="kw" x="163.0" y="121.8" font-size="8.2" textLength="78.6" lengthAdjust="spacingAndGlyphs">uncertainty analysis</text>
<rect x="300.8" y="136.8" width="62.6" height="8.7" rx="1.5" fill="#d8d0fb" fill-opacity="0.88"/>
<text class="kw" x="301.8" y="143.5" font-size="7" textLength="60.6" lengthAdjust="spacingAndGlyphs">hydrological model</text>
<rect x="67.2" y="211.6" width="66.6" height="11.0" rx="1.5" fill="#d8d0fb" fill-opacity="0.88"/>
<text class="kw" x="68.2" y="220.1" font-size="9.0" textLength="64.6" lengthAdjust="spacingAndGlyphs">climate change</text>
<rect x="185" y="220.5" width="73.4" height="10.2" rx="1.5" fill="#d8d0fb" fill-opacity="0.88"/>
<text class="kw" x="186.0" y="228.3" font-size="8.25" textLength="71.4" lengthAdjust="spacingAndGlyphs">flood risk analysis</text>
<rect x="327.6" y="205.6" width="78.6" height="7.6" rx="1.5" fill="#d8d0fb" fill-opacity="0.88"/>
<text class="kw" x="328.6" y="211.7" font-size="7.1" textLength="76.6" lengthAdjust="spacingAndGlyphs">artificial neural network</text>
<rect x="442.4" y="206.2" width="36.6" height="6.2" rx="1.5" fill="#d8d0fb" fill-opacity="0.88"/>
<text class="kw" x="443.4" y="211.2" font-size="5.8" textLength="34.6" lengthAdjust="spacingAndGlyphs">random forest</text>
<rect x="242.2" y="256.7" width="77.2" height="8.9" rx="1.5" fill="#d8d0fb" fill-opacity="0.88"/>
<text class="kw" x="243.2" y="263.6" font-size="7.55" textLength="75.2" lengthAdjust="spacingAndGlyphs">hydrodynamic model</text>
<rect x="328" y="269.6" width="62.0" height="6.2" rx="1.5" fill="#d8d0fb" fill-opacity="0.88"/>
<text class="kw" x="329.0" y="274.6" font-size="5.8" textLength="60.0" lengthAdjust="spacingAndGlyphs">shallow water equations</text>
<rect x="425.6" y="259.5" width="68.6" height="7.0" rx="1.5" fill="#d8d0fb" fill-opacity="0.88"/>
<text class="kw" x="426.6" y="265.1" font-size="6.3" textLength="66.6" lengthAdjust="spacingAndGlyphs">support vector machine</text>
<rect x="242.2" y="320" width="48.0" height="7.4" rx="1.5" fill="#d8d0fb" fill-opacity="0.88"/>
<text class="kw" x="243.2" y="325.9" font-size="6.7" textLength="46.0" lengthAdjust="spacingAndGlyphs">urban flooding</text>
<rect x="328.5" y="334.5" width="93.1" height="9.8" rx="1.5" fill="#d8d0fb" fill-opacity="0.88"/>
<text class="kw" x="329.5" y="342.1" font-size="8.3" textLength="91.1" lengthAdjust="spacingAndGlyphs">flood inundation model</text>
<rect x="72.9" y="80.7" width="238.1" height="22.1" rx="2.5" fill="#bdbdbd"/>
<text class="cl" x="74.2" y="97.8" fill="#0db02b" stroke="#0db02b" stroke-width="0.35" textLength="235.3" lengthAdjust="spacingAndGlyphs">#3 flood frequency analysis</text>
<rect x="28.2" y="170.4" width="156.6" height="22.4" rx="2.5" fill="#bdbdbd"/>
<text class="cl" x="29.5" y="187.6" fill="#12b398" stroke="#12b398" stroke-width="0.35" textLength="153.8" lengthAdjust="spacingAndGlyphs">#4 climate change</text>
<rect x="187.3" y="175.6" width="137.3" height="22.0" rx="2.5" fill="#bdbdbd"/>
<text class="cl" x="188.6" y="192.6" fill="#bd870c" stroke="#bd870c" stroke-width="0.35" textLength="134.5" lengthAdjust="spacingAndGlyphs">#1 flood control</text>
<rect x="278" y="225.9" width="175.6" height="22.7" rx="2.5" fill="#bdbdbd"/>
<text class="cl" x="279.3" y="243.2" fill="#1cb01c" stroke="#1cb01c" stroke-width="0.35" textLength="172.8" lengthAdjust="spacingAndGlyphs">#2 machine learning</text>
<rect x="192" y="281.5" width="153.4" height="22.3" rx="2.5" fill="#bdbdbd"/>
<text class="cl" x="193.3" y="298.6" fill="#cf0606" stroke="#cf0606" stroke-width="0.35" textLength="150.6" lengthAdjust="spacingAndGlyphs">#0 urban flooding</text>
<rect x="7.3" y="378.3" width="527.0" height="75.89999999999998" fill="#fff"/>
<rect x="253.7" y="378.3" width="56.1" height="19.2" fill="#c0504d"/>
<rect x="309.8" y="378.3" width="56.1" height="19.2" fill="#bf8410"/>
<rect x="365.9" y="378.3" width="56.1" height="19.2" fill="#6aa646"/>
<rect x="422" y="378.3" width="56.1" height="19.2" fill="#0a9e4e"/>
<rect x="478.1" y="378.3" width="56.2" height="19.2" fill="#0a9f97"/>
<g stroke="#c9c9c9" stroke-width="0.9" fill="none">
<rect x="7.3" y="378.3" width="527.0" height="75.89999999999998"/>
<path d="M113 378.3V454.2"/>
<path d="M169.5 378.3V454.2"/>
<path d="M253.7 378.3V454.2"/>
<path d="M309.8 397.5V416.9"/>
<path d="M365.9 397.5V416.9"/>
<path d="M422 397.5V416.9"/>
<path d="M478.1 397.5V416.9"/>
<path d="M169.5 397.5H534.3"/>
</g>
<path d="M7.3 416.9H534.3" stroke="#3a3a3a" stroke-width="1.6"/>
<rect x="118.4" y="387.3" width="44.8" height="20.2" fill="#bebebe"/>
<rect x="118.4" y="424" width="44.8" height="20.4" fill="#dcdcff"/>
<rect x="300.2" y="431.8" width="186.2" height="8.3" fill="url(#yr)"/>
<text class="tb" x="60.1" y="401.1" font-size="11.4" text-anchor="middle" textLength="61.5" lengthAdjust="spacingAndGlyphs">Cluster name</text>
<text class="tb" x="60.1" y="433.1" font-size="11.4" text-anchor="middle" textLength="71.7" lengthAdjust="spacingAndGlyphs">High-frequency</text>
<text class="tb" x="60.1" y="445.3" font-size="11.4" text-anchor="middle" textLength="42" lengthAdjust="spacingAndGlyphs">Keyword</text>
<text class="tb" x="211.2" y="391.7" font-size="11.4" text-anchor="middle" textLength="46.6" lengthAdjust="spacingAndGlyphs">Cluster ID</text>
<text class="tb" x="211.5" y="411.1" font-size="11.4" text-anchor="middle" textLength="17.9" lengthAdjust="spacingAndGlyphs">Size</text>
<text class="tb" x="211.5" y="433.1" font-size="11.4" text-anchor="middle" textLength="41.5" lengthAdjust="spacingAndGlyphs">Keyword</text>
<text class="tb" x="212.0" y="445.3" font-size="11.4" text-anchor="middle" textLength="25.5" lengthAdjust="spacingAndGlyphs">Node</text>
<text class="tw" x="281.6" y="391.5" font-size="10.5" text-anchor="middle" textLength="10.5" lengthAdjust="spacingAndGlyphs">#0</text>
<text class="tb" x="281.6" y="410.7" font-size="11" text-anchor="middle" textLength="10.8" lengthAdjust="spacingAndGlyphs">68</text>
<text class="tw" x="337.8" y="391.5" font-size="10.5" text-anchor="middle" textLength="10.5" lengthAdjust="spacingAndGlyphs">#1</text>
<text class="tb" x="337.7" y="410.7" font-size="11" text-anchor="middle" textLength="10.8" lengthAdjust="spacingAndGlyphs">64</text>
<text class="tw" x="393.8" y="391.5" font-size="10.5" text-anchor="middle" textLength="10.5" lengthAdjust="spacingAndGlyphs">#2</text>
<text class="tb" x="393.8" y="410.7" font-size="11" text-anchor="middle" textLength="10.8" lengthAdjust="spacingAndGlyphs">63</text>
<text class="tw" x="449.9" y="391.5" font-size="10.5" text-anchor="middle" textLength="10.5" lengthAdjust="spacingAndGlyphs">#3</text>
<text class="tb" x="449.9" y="410.7" font-size="11" text-anchor="middle" textLength="10.8" lengthAdjust="spacingAndGlyphs">62</text>
<text class="tw" x="506.1" y="391.5" font-size="10.5" text-anchor="middle" textLength="10.5" lengthAdjust="spacingAndGlyphs">#4</text>
<text class="tb" x="506.0" y="410.7" font-size="11" text-anchor="middle" textLength="10.8" lengthAdjust="spacingAndGlyphs">59</text>
<text class="tb" x="281.2" y="438.3" font-size="11" text-anchor="middle" textLength="21" lengthAdjust="spacingAndGlyphs">2023</text>
<text class="tb" x="505.8" y="438.3" font-size="11" text-anchor="middle" textLength="21" lengthAdjust="spacingAndGlyphs">2003</text>
</svg></body></html>
